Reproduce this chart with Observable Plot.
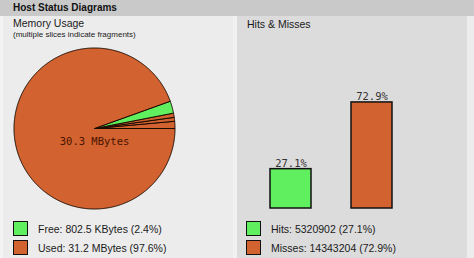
<!DOCTYPE html>
<html><head><meta charset="utf-8">
<script src="https://cdn.jsdelivr.net/npm/d3@7"></script>
<script src="https://cdn.jsdelivr.net/npm/@observablehq/plot@0.6"></script>
<style>
html,body{margin:0;padding:0;}
body{width:474px;height:258px;position:relative;overflow:hidden;background:#ececec;font-family:"Liberation Sans",Arial,sans-serif;color:#1a1a1a;}
.abs{position:absolute;white-space:nowrap;}
#hdr{left:0;top:0;width:474px;height:16px;background:#c9c9c9;}
#hdrText{left:13px;top:3px;font-size:10px;line-height:10px;font-weight:bold;color:#111;}
#right{left:237px;top:16px;width:230px;height:242px;background:#dcdcdc;}
#leftStripe{left:0;top:16px;width:3px;height:242px;background:#f3f3f3;}
#midStripe{left:233px;top:16px;width:4px;height:242px;background:#f1f1f1;}
.t1{font-size:10.5px;line-height:9px;}
.t2{font-size:8px;line-height:7px;color:#222;}
.sw{width:13px;height:13px;border:1px solid #111;}
.lg{font-size:10.5px;line-height:10.5px;}
svg.layer{position:absolute;left:0;top:0;background:transparent;overflow:visible;}
</style>
</head><body>
<div id="hdr" class="abs"></div>
<div id="hdrText" class="abs">Host Status Diagrams</div>
<div id="leftStripe" class="abs"></div>
<div id="midStripe" class="abs"></div>
<div id="right" class="abs"></div>
<div class="abs t1" style="left:13px;top:19.4px;">Memory Usage</div>
<div class="abs t2" style="left:13px;top:31px;">(multiple slices indicate fragments)</div>
<div class="abs t1" style="left:247px;top:19.9px;">Hits &amp; Misses</div>
<div id="legends"></div>
<script>
// ---- Data ----
const memSliceLabels = ["fragment 1", "fragment 2", "fragment 3", "Free", "Used (largest)"];
const memSliceMB = [0.46, 0.25, 0.27, 0.7837, 30.3];
const memSliceKind = ["used", "used", "used", "free", "used"];
const memBigLabel = "30.3 MBytes";
const memLegendLabels = ["Free: 802.5 KBytes (2.4%)", "Used: 31.2 MBytes (97.6%)"];
const memLegendKind = ["free", "used"];

const hmNames = ["Hits", "Misses"];
const hmCounts = [5320902, 14343204];
const hmKind = ["free", "used"];
const hmLegendLabels = ["Hits: 5320902 (27.1%)", "Misses: 14343204 (72.9%)"];

const palette = {free: "#60ef5f", used: "#d2622f"};

// ---- Pie polygons (from values) ----
const total = d3.sum(memSliceMB);
const pts = [];
let cum = 0;
memSliceMB.forEach((v, i) => {
  const a0 = cum / total * 2 * Math.PI;
  cum += v;
  const a1 = cum / total * 2 * Math.PI;
  const n = Math.max(2, Math.ceil((a1 - a0) / (Math.PI / 360)));
  const color = palette[memSliceKind[i]];
  pts.push({k: i, x: 0, y: 0, color});
  for (let j = 0; j <= n; j++) {
    const a = a0 + (a1 - a0) * j / n;
    pts.push({k: i, x: Math.cos(a), y: Math.sin(a), color});
  }
  pts.push({k: i, x: 0, y: 0, color});
});

const pie = Plot.plot({
  width: 474, height: 258,
  margin: 0,
  x: {domain: [-1, 1], range: [13.5, 174.5], axis: null},
  y: {domain: [-1, 1], range: [208.5, 47.5], axis: null},
  color: {type: "identity"},
  marks: [
    Plot.line(pts, {x: "x", y: "y", z: "k", fill: "color", stroke: "#1a0a00", strokeWidth: 1, strokeLinejoin: "round", curve: "linear"}),
    Plot.text([{x: 0, y: 0, t: memBigLabel}], {x: "x", y: "y", text: "t", dy: 13, fontFamily: "DejaVu Sans Mono", fontSize: 10.5, fill: "#4a1500"})
  ]
});
pie.classList.add("layer");
document.body.appendChild(pie);

// ---- Bars ----
const hmTotal = d3.sum(hmCounts);
const bars = hmNames.map((name, i) => ({name, pct: hmCounts[i] / hmTotal * 100, color: palette[hmKind[i]]}));
const barPlot = Plot.plot({
  width: 474, height: 258,
  margin: 0,
  x: {domain: hmNames, range: [229.5, 432.5], paddingInner: 0.494, paddingOuter: 0.5, axis: null},
  y: {domain: [0, 100], range: [208, 62.6], axis: null},
  color: {type: "identity"},
  marks: [
    Plot.barY(bars, {x: "name", y: "pct", fill: "color", stroke: "#111", strokeWidth: 1.5}),
    Plot.text(bars, {x: "name", y: "pct", text: d => d.pct.toFixed(1) + "%", dy: -2, lineAnchor: "bottom", fontFamily: "DejaVu Sans Mono", fontSize: 10.5, fill: "#333"})
  ]
});
barPlot.classList.add("layer");
document.body.appendChild(barPlot);

// ---- Legends ----
const leg = document.getElementById("legends");
function addLegend(x0, labels, kinds) {
  labels.forEach((lab, i) => {
    const top = 221 + i * 19;
    const sw = document.createElement("div");
    sw.className = "abs sw";
    sw.style.left = x0 + "px"; sw.style.top = top + "px";
    sw.style.background = palette[kinds[i]];
    leg.appendChild(sw);
    const tx = document.createElement("div");
    tx.className = "abs lg";
    tx.style.left = (x0 + 25) + "px"; tx.style.top = (top + 2.5) + "px";
    tx.textContent = lab;
    leg.appendChild(tx);
  });
}
addLegend(13, memLegendLabels, memLegendKind);
addLegend(246, hmLegendLabels, hmKind);
</script>
</body></html>
